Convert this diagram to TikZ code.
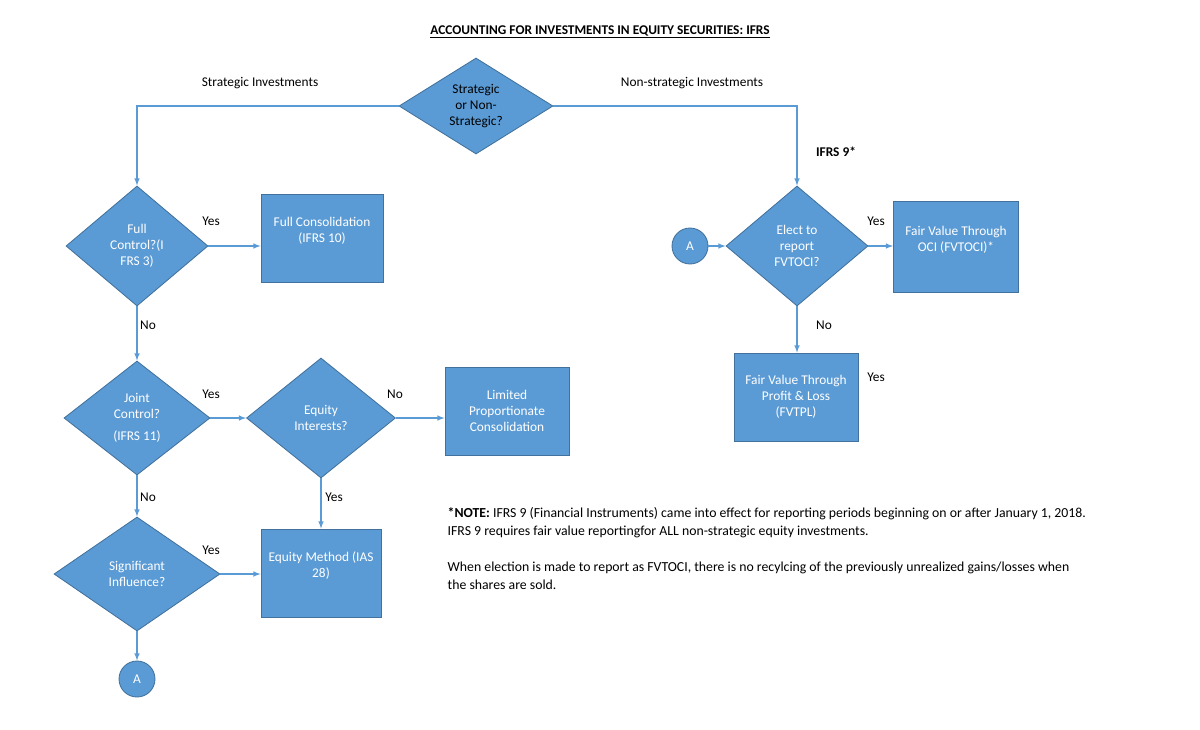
\documentclass[tikz,border=0pt]{standalone}
\usepackage{fontspec}
\setmainfont{Carlito}
\usepackage{tikz}
\usetikzlibrary{shapes.geometric, arrows}
\definecolor{officeblue}{HTML}{5B9BD5}
\definecolor{officeedge}{HTML}{41719C}
\newcommand{\px}{0.025cm}
\tikzset{
	>=latex, % small filled arrow heads
	flow/.style={->, draw=officeblue, line width=0.8pt}, % connectors
	decision/.style={diamond, aspect=1.2, inner sep=0pt, fill=officeblue, draw=officeedge, line width=0.6pt, text=white, align=center, font=\fontsize{9.5}{11.4}\selectfont},
	outcome/.style={rectangle, fill=officeblue, draw=officeedge, line width=0.6pt, text=white, align=center, minimum width=122*\px, minimum height=88*\px, font=\fontsize{9.5}{11.4}\selectfont},
	connector/.style={circle, fill=officeblue, draw=officeedge, line width=0.6pt, text=white, minimum size=36*\px, inner sep=0pt, font=\fontsize{9.5}{11.4}\selectfont},
	tag/.style={font=\fontsize{9.5}{11.4}\selectfont, inner sep=1pt},
}
\begin{document}
\begin{tikzpicture}[x=\px, y=-\px]
	\useasboundingbox (0,0) rectangle (1200,729);
	% title and branch captions
	\node[tag] (title) at (600,32) {\underline{\textbf{ACCOUNTING FOR INVESTMENTS IN EQUITY SECURITIES: IFRS}}};
	\node[tag] (strat) at (260,83) {Strategic Investments};
	\node[tag] (nonstrat) at (692,83) {Non-strategic Investments};
	\node[tag, font=\bfseries\fontsize{9.5}{11.4}\selectfont] (ifrs9) at (836,152) {IFRS 9*};
	% decisions
	\node[decision, aspect=1.6, text=black, minimum width=154*\px, minimum height=96*\px] (top) at (476,106) {Strategic\\or Non-\\Strategic?};
	\node[decision, minimum width=142*\px, minimum height=120*\px] (full) at (137,246) {Full\\Control?(I\\FRS 3)};
	\node[decision, minimum width=146*\px, minimum height=114*\px] (joint) at (137,418) {Joint\\Control?\\[4pt](IFRS 11)};
	\node[decision, minimum width=149*\px, minimum height=120*\px] (equity) at (321,418) {Equity\\Interests?};
	\node[decision, minimum width=166*\px, minimum height=114*\px] (signif) at (137,574) {Significant\\Influence?};
	\node[decision, minimum width=142*\px, minimum height=120*\px] (elect) at (797,246) {Elect to\\report\\FVTOCI?};
	% outcomes
	\node[outcome] (fullcons) at (322,238) {Full Consolidation\\(IFRS 10)\\\mbox{}};
	\node[outcome, minimum width=124*\px] (limited) at (507,411) {Limited\\Proportionate\\Consolidation};
	\node[outcome, minimum width=120*\px] (eqmethod) at (321,573) {Equity Method (IAS\\28)\\\mbox{}};
	\node[outcome, minimum width=125*\px, minimum height=91*\px] (fvoci) at (956,247) {Fair Value Through\\OCI (FVTOCI)*\\\mbox{}};
	\node[outcome, minimum width=124*\px] (fvtpl) at (796,397) {Fair Value Through\\Profit \& Loss\\(FVTPL)};
	% off-page connectors
	\node[connector] (Aout) at (137,679) {A};
	\node[connector] (Ain) at (690,246) {A};
	% edges
	\draw[flow] (top.west) -| (full.north);
	\draw[flow] (top.east) -| (elect.north);
	\draw[flow] (full.east) -- (full.east -| fullcons.west);
	\draw[flow] (full.south) -- (joint.north);
	\draw[flow] (joint.east) -- (equity.west);
	\draw[flow] (equity.east) -- (equity.east -| limited.west);
	\draw[flow] (equity.south) -- (equity.south |- eqmethod.north);
	\draw[flow] (joint.south) -- (signif.north);
	\draw[flow] (signif.east) -- (signif.east -| eqmethod.west);
	\draw[flow] (signif.south) -- (Aout.north);
	\draw[flow] (Ain.east) -- (elect.west);
	\draw[flow] (elect.east) -- (elect.east -| fvoci.west);
	\draw[flow] (elect.south) -- (elect.south |- fvtpl.north);
	% edge labels
	\node[tag] (yes1) at (211,221) {Yes};
	\node[tag] (no1) at (148,325) {No};
	\node[tag] (yes2) at (211,394) {Yes};
	\node[tag] (no2) at (395,394) {No};
	\node[tag] (yes3) at (334,497) {Yes};
	\node[tag] (no3) at (148,497) {No};
	\node[tag] (yes4) at (211,550) {Yes};
	\node[tag] (yes5) at (876,221) {Yes};
	\node[tag] (no4) at (824,325) {No};
	\node[tag] (yes6) at (876,377) {Yes};
	% note
	\node[tag, anchor=north west, align=left, font=\fontsize{9.8}{12.8}\selectfont] (note) at (446,506)
	{\textbf{*NOTE:} IFRS 9 (Financial Instruments) came into effect for reporting periods beginning on or after January 1, 2018.\\
	IFRS 9 requires fair value reportingfor ALL non-strategic equity investments.\\[12.8pt]
	When election is made to report as FVTOCI, there is no recylcing of the previously unrealized gains/losses when\\
	the shares are sold.};
\end{tikzpicture}
\end{document}
